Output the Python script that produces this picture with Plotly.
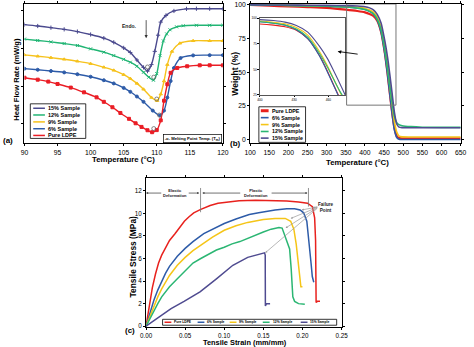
import plotly.graph_objects as go

W, H = 474, 347
def px(x): return x / W
def py(y): return 1 - y / H

FONT = "Liberation Sans, Arial"

# ---------------- (a) DSC ----------------
dsc_names = ["15% Sample", "12% Sample", "9% Sample", "6% Sample", "Pure LDPE"]
dsc_colors = ["#4b4a8e", "#21b574", "#f6c21c", "#2d5ba8", "#ea1d25"]
dsc_symbols = ["cross-thin", "x-thin", "triangle-up", "circle", "square"]
dsc_T_15 = [90, 92, 94, 96, 98, 100, 102, 103.5, 105, 106, 107, 108, 108.6, 109.2, 109.7, 110.2, 110.6, 111.4, 112.6, 114.5, 116, 118, 120]
dsc_y_15 = [85.2, 84.2, 83.0, 81.8, 80.2, 78.1, 75.5, 72.5, 68.5, 65.2, 59.8, 54.5, 51.8, 56.5, 66.0, 77.6, 87.0, 91.8, 95.0, 96.5, 96.6, 96.6, 96.6]
dsc_T_12 = [90, 92, 94, 96, 98, 100, 102, 103.5, 105, 106, 107, 108, 108.8, 109.5, 110.0, 110.5, 111.0, 111.5, 112, 113, 114, 116, 118, 120]
dsc_y_12 = [74.8, 73.8, 72.8, 71.6, 70.2, 67.8, 65.4, 63.0, 60.3, 58.2, 55.3, 51.0, 47.5, 45.3, 50.0, 63.0, 73.5, 78.5, 81.5, 83.6, 84.4, 84.7, 84.7, 84.7]
dsc_T_9 = [90, 92, 94, 96, 98, 100, 102, 103.5, 105, 106, 107, 108, 109.2, 110.05, 110.6, 111.1, 111.6, 112.3, 113.5, 115.5, 118, 120]
dsc_y_9 = [63.5, 62.5, 61.5, 60.3, 58.9, 57.2, 54.6, 52.4, 49.3, 46.5, 43.0, 38.8, 32.9, 30.6, 35.3, 44.7, 56.5, 65.9, 71.8, 73.6, 73.6, 73.6]
dsc_T_6 = [90, 92, 94, 96, 98, 100, 102, 103.5, 105, 106, 107, 108, 109.4, 110.5, 111.1, 111.6, 112.1, 112.6, 113.6, 115.5, 118, 120]
dsc_y_6 = [53.6, 52.8, 51.9, 50.9, 49.6, 47.8, 45.3, 43.0, 39.8, 37.0, 33.6, 29.8, 23.5, 20.0, 23.5, 32.9, 44.7, 54.1, 61.2, 63.1, 63.3, 63.3]
dsc_T_0 = [90, 92, 93.6, 95, 97, 99, 100.9, 102, 103.3, 104.5, 105.8, 106.8, 107.7, 108.6, 109.3, 110.0, 110.6, 111.1, 111.6, 112.1, 113.1, 114.6, 116.5, 118, 120]
dsc_y_0 = [47.1, 45.7, 44.3, 42.6, 40.0, 36.6, 33.0, 29.8, 25.9, 21.8, 17.6, 14.4, 11.8, 9.4, 8.0, 9.5, 16.5, 30.6, 42.4, 50.6, 54.1, 55.3, 56.0, 56.0, 56.0]
dsc_T = [dsc_T_15, dsc_T_12, dsc_T_9, dsc_T_6, dsc_T_0]
dsc_y = [dsc_y_15, dsc_y_12, dsc_y_9, dsc_y_6, dsc_y_0]
tm_T = [108.6, 109.55, 110.0, 110.4, 109.55]
tm_y = [54.8, 47.5, 31.8, 20.3, 10.6]
dsc_ticks_y = [14.4, 41.1, 68.3, 95.5]

# ---------------- (b) TGA ----------------
tga_names = ["Pure LDPE", "6% Sample", "9% Sample", "12% Sample", "15% Sample"]
tga_colors = ["#e8211d", "#2d5ba8", "#f5c518", "#2bb673", "#4f4b90"]
tga_widths = [2.2, 1.6, 1.6, 1.6, 1.6]
tga_T = [100, 150, 200, 250, 300, 350, 380, 400, 412, 422, 432, 442, 452, 459, 465, 471, 477, 483, 489, 497, 520, 550, 600, 650]
tga_pure = [100, 99.4, 98.9, 98.4, 97.8, 96.5, 95.5, 94.5, 93.3, 91.8, 88.3, 80.0, 64.0, 49.0, 34.0, 20.0, 8.5, 2.5, 1.0, 0.8, 0.8, 0.8, 0.8, 0.8]
tga_6 = [100, 99.8, 99.6, 99.4, 99.1, 98.5, 97.7, 96.7, 95.3, 93.3, 88.8, 80.0, 63.5, 48.0, 33.5, 19.0, 7.0, 1.5, 0.2, 0, 0, 0, 0, 0]
tga_9 = [100, 99.9, 99.7, 99.5, 99.3, 98.8, 98.2, 97.4, 96.2, 94.6, 91.0, 83.5, 68.0, 54.0, 40.0, 26.0, 13.0, 5.5, 2.5, 1.9, 1.8, 1.8, 1.8, 1.8]
tga_12 = [100, 99.8, 99.6, 99.3, 99.0, 98.4, 97.6, 96.6, 95.2, 93.4, 89.5, 81.5, 66.0, 52.5, 39.5, 27.0, 17.0, 12.5, 11.0, 10.2, 9.5, 9.1, 9.0, 9.0]
tga_15 = [100, 99.9, 99.9, 99.8, 99.7, 99.5, 99.2, 98.7, 97.8, 96.3, 93.0, 86.5, 73.0, 61.0, 48.0, 34.0, 20.0, 11.5, 9.2, 8.8, 8.7, 8.7, 8.7, 8.7]
tga_w = [tga_pure, tga_6, tga_9, tga_12, tga_15]

# ---------------- (c) Tensile ----------------
ten_names = ["Pure LDPE", "6% Sample", "9% Sample", "12% Sample", "15% Sample"]
ten_colors = ["#e8211d", "#2d5ba8", "#f5c518", "#2bb673", "#4f4b90"]
ten_x_0 = [0, 0.004, 0.008, 0.012, 0.016, 0.02, 0.025, 0.03, 0.037, 0.043, 0.049, 0.055, 0.061, 0.07, 0.082, 0.092, 0.103, 0.119, 0.14, 0.16, 0.18, 0.195, 0.2065, 0.2127, 0.2156, 0.2168, 0.2172, 0.2175, 0.219, 0.2225]
ten_y_0 = [0, 1.9, 3.4, 4.6, 5.6, 6.3, 7.0, 7.6, 8.2, 8.8, 9.3, 9.7, 10.05, 10.35, 10.7, 10.9, 11.0, 11.12, 11.17, 11.15, 11.1, 11.0, 10.9, 10.6, 9.6, 7.6, 4.5, 2.1, 2.2, 2.2]
ten_x_6 = [0, 0.005, 0.01, 0.015, 0.02, 0.025, 0.03, 0.04, 0.05, 0.06, 0.0738, 0.09, 0.1, 0.115, 0.132, 0.144, 0.165, 0.18, 0.19, 0.197, 0.2015, 0.2056, 0.2085, 0.211, 0.2126, 0.2135, 0.2145]
ten_y_6 = [0, 1.2, 2.3, 3.2, 4.0, 4.7, 5.3, 6.2, 6.9, 7.5, 8.2, 8.8, 9.1, 9.5, 9.9, 10.06, 10.3, 10.4, 10.4, 10.3, 10.05, 9.3, 7.6, 5.6, 4.4, 4.0, 3.9]
ten_x_9 = [0, 0.005, 0.01, 0.015, 0.02, 0.025, 0.03, 0.04, 0.05, 0.06, 0.07, 0.085, 0.1, 0.115, 0.13, 0.15, 0.165, 0.178, 0.185, 0.189, 0.192, 0.195, 0.197, 0.198, 0.2]
ten_y_9 = [0, 0.9, 1.8, 2.6, 3.3, 3.9, 4.5, 5.4, 6.1, 6.7, 7.2, 7.9, 8.5, 8.9, 9.2, 9.45, 9.55, 9.55, 9.3, 8.6, 7.3, 5.4, 3.8, 3.5, 3.5]
ten_x_12 = [0, 0.005, 0.01, 0.015, 0.02, 0.025, 0.03, 0.04, 0.05, 0.06, 0.07, 0.08, 0.09, 0.1, 0.11, 0.12, 0.13, 0.14, 0.15, 0.16, 0.17, 0.174, 0.176, 0.179, 0.1836, 0.1856, 0.1877, 0.19, 0.195, 0.203]
ten_y_12 = [0, 0.7, 1.4, 2.0, 2.6, 3.1, 3.5, 4.2, 4.9, 5.6, 6.0, 6.4, 6.75, 7.0, 7.3, 7.5, 7.8, 8.1, 8.35, 8.6, 8.75, 8.7, 8.3, 7.7, 6.85, 5.1, 2.6, 2.2, 2.0, 1.95]
ten_x_15 = [0, 0.016, 0.032, 0.0486, 0.069, 0.09, 0.111, 0.13, 0.145, 0.1515, 0.1524, 0.1526, 0.154, 0.1586]
ten_y_15 = [0, 0.8, 1.55, 2.2, 3.05, 4.2, 5.4, 6.1, 6.4, 6.5, 6.3, 1.8, 2.0, 2.0]
ten_x = [ten_x_0, ten_x_6, ten_x_9, ten_x_12, ten_x_15]
ten_y = [ten_y_0, ten_y_6, ten_y_9, ten_y_12, ten_y_15]
fail_x = [0.2127, 0.199, 0.185, 0.1785, 0.1524]
fail_y = [10.5, 10.3, 9.55, 8.7, 6.5]
fail_hub = (0.2215, 10.6)

fig = go.Figure()

# (a) traces
for T, y, c, n, s in zip(dsc_T, dsc_y, dsc_colors, dsc_names, dsc_symbols):
    fig.add_trace(go.Scatter(x=T, y=y, name=n, mode="lines+markers",
                             line=dict(color=c, width=1.4, shape="spline", smoothing=0.8),
                             marker=dict(symbol=s, size=3, color=c, line=dict(color=c, width=1)),
                             xaxis="x", yaxis="y", showlegend=False))
fig.add_trace(go.Scatter(x=tm_T, y=tm_y, mode="markers", name="Melting Point Temp.",
                         marker=dict(symbol="circle-open", size=4, color="#666", line=dict(width=0.8)),
                         xaxis="x", yaxis="y", showlegend=False))

# (b) traces main + inset
for w, c, n, lw in zip(tga_w, tga_colors, tga_names, tga_widths):
    fig.add_trace(go.Scatter(x=tga_T, y=w, name=n, mode="lines",
                             line=dict(color=c, width=lw, shape="spline", smoothing=0.6),
                             xaxis="x2", yaxis="y2", showlegend=False))
for w, c, n in zip(tga_w, tga_colors, tga_names):
    fig.add_trace(go.Scatter(x=tga_T, y=w, name=n, mode="lines",
                             line=dict(color=c, width=1.1, shape="spline", smoothing=0.6),
                             xaxis="x4", yaxis="y4", showlegend=False))

# (c) traces
for x, y, c, n in zip(ten_x, ten_y, ten_colors, ten_names):
    fig.add_trace(go.Scatter(x=x, y=y, name=n, mode="lines",
                             line=dict(color=c, width=1.5),
                             xaxis="x3", yaxis="y3", showlegend=False))

def axc(size=6.8, ticklen=2, **kw):
    d = dict(showline=True, linecolor="black", linewidth=1, mirror="ticks",
             ticks="outside", ticklen=ticklen, tickcolor="black", showgrid=False, zeroline=False,
             tickfont=dict(family=FONT, size=size, color="black"))
    d.update(kw)
    return d

fig.update_layout(
    width=W, height=H, margin=dict(l=0, r=0, t=0, b=0),
    paper_bgcolor="white", plot_bgcolor="white", showlegend=False,
    xaxis=dict(domain=[px(19), px(223)], range=[90, 120], dtick=5, anchor="y", **axc()),
    yaxis=dict(domain=[py(143), py(2)], range=[0, 100], tickvals=dsc_ticks_y, showticklabels=False,
               anchor="x", **axc()),
    xaxis2=dict(domain=[px(251), px(467.5)], range=[100, 650], dtick=50, anchor="y2", **axc()),
    yaxis2=dict(domain=[py(143), py(2)], range=[-2.9, 100.7], tickvals=[0, 25, 50, 75, 100],
                anchor="x2", **axc()),
    xaxis3=dict(domain=[px(144), px(345)], range=[0, 0.25], dtick=0.05, tickformat=".2f",
                anchor="y3", **axc(size=6.3)),
    yaxis3=dict(domain=[py(329), py(178)], range=[-0.09, 13.14], dtick=2, anchor="x3", **axc(size=6.3)),
    xaxis4=dict(domain=[px(261), px(349)], range=[400, 475], tickvals=[400, 430, 460], anchor="y4",
                **axc(size=3.2, ticklen=1.5, mirror=True, linecolor="#555", linewidth=0.8)),
    yaxis4=dict(domain=[py(94), py(16.5)], range=[25, 100], tickvals=[25, 50, 75, 100], anchor="x4",
                **axc(size=3.2, ticklen=1.5, mirror=True, linecolor="#555", linewidth=0.8)),
)

shapes = []
ann = []

def text(x, y, t, size, angle=0, xanchor="center", yanchor="middle", color="black"):
    ann.append(dict(x=px(x), y=py(y), xref="paper", yref="paper", text=t, showarrow=False,
                    textangle=angle, xanchor=xanchor, yanchor=yanchor,
                    font=dict(family=FONT, size=size, color=color)))

# axis titles
text(121, 159.5, "<b>Temperature (°C)</b>", 7.8)
text(10, 78, "<b>Heat Flow Rate (mW/g)</b>", 7.6, angle=-90)
text(361, 162, "<b>Temperature (°C)</b>", 7.8)
text(236, 73, "<b>Weight (%)</b>", 8.5, angle=-90)
text(246, 344.5, "<b>Tensile Strain (mm/mm)</b>", 7.4)
text(131, 257, "<b>Tensile Stress (MPa)</b>", 8.4, angle=-90)
# panel labels
text(9, 140, "<b>(a)</b>", 8, xanchor="right")
text(244, 143, "<b>(b)</b>", 8, xanchor="right")
text(128, 332, "<b>(c)</b>", 8)

# manual legends
def legend(box, names, colors, line_x, text_x, rows_y, size, widths=None):
    shapes.append(dict(type="rect", xref="paper", yref="paper", x0=px(box[0]), x1=px(box[2]),
                       y0=py(box[3]), y1=py(box[1]), line=dict(color="black", width=0.8),
                       fillcolor="white", layer="above"))
    for i, (n, c) in enumerate(zip(names, colors)):
        lw = widths[i] if widths else 1.5
        shapes.append(dict(type="line", xref="paper", yref="paper",
                           x0=px(line_x[i][0]), x1=px(line_x[i][1]), y0=py(rows_y[i]), y1=py(rows_y[i]),
                           line=dict(color=c, width=lw), layer="above"))
        text(text_x[i], rows_y[i], "<b>%s</b>" % n, size, xanchor="left")

legend((25, 103, 82, 138), dsc_names, dsc_colors, [(28, 40)] * 5, [41] * 5,
       [107.5, 114.3, 121.3, 128.2, 135], 5.5)
legend((260, 106, 308, 142), tga_names, tga_colors, [(262, 270)] * 5, [271] * 5,
       [110, 117, 124, 131, 137.7], 5.3, widths=[3, 1.6, 1.6, 1.6, 1.6])
c_starts = [163, 197, 230, 264, 303]
legend((161, 321, 340, 327), ten_names, ten_colors, [(s, s + 7) for s in c_starts],
       [s + 8 for s in c_starts], [324] * 5, 3.3)

# (a) extras
ann.append(dict(x=px(222.5), y=py(142.5), xref="paper", yref="paper", xanchor="right", yanchor="bottom",
                text="<b>-o- Melting Point Temp. (T<sub>m</sub>)</b>", showarrow=False,
                font=dict(family=FONT, size=4.2, color="black"),
                bordercolor="black", borderwidth=0.7, borderpad=1, bgcolor="white"))
ann.append(dict(x=108.4, y=75.5, xref="x", yref="y", ax=0, ay=-22, text=" ", showarrow=True,
                arrowhead=2, arrowsize=0.8, arrowwidth=0.8, arrowcolor="#333",
                font=dict(size=4)))
ann.append(dict(x=105.8, y=84, xref="x", yref="y", text="<b>Endo.</b>", showarrow=False,
                font=dict(family=FONT, size=5, color="#222")))

# (b) extras: zoom box + arrow
shapes.append(dict(type="rect", xref="x2", yref="y2", x0=352, x1=481, y0=25.5, y1=100.7,
                   line=dict(color="#777", width=1)))
ann.append(dict(x=px(341), y=py(50), xref="paper", yref="paper", ax=22, ay=3, text=" ",
                showarrow=True, arrowhead=2, arrowsize=0.8, arrowwidth=0.9, arrowcolor="black",
                font=dict(size=4)))

# (c) extras
for (x0, x1) in [(0.022, 0.0), (0.052, 0.068), (0.123, 0.072), (0.158, 0.2065)]:
    ann.append(dict(x=x1, y=11.8, ax=x0, ay=11.8, xref="x3", yref="y3", axref="x3", ayref="y3",
                    text=" ", showarrow=True, arrowhead=2, arrowsize=0.6, arrowwidth=0.7,
                    arrowcolor="#333", font=dict(size=4)))
for xv, ybot in [(0.0697, 10.1), (0.2077, 10.6)]:
    shapes.append(dict(type="line", xref="x3", yref="y3", x0=xv, x1=xv, y0=12.25, y1=ybot,
                       line=dict(color="#777", width=0.8)))
ann.append(dict(x=0.037, y=11.8, xref="x3", yref="y3", text="<b>Elastic<br>Deformation</b>",
                showarrow=False, font=dict(family=FONT, size=4, color="#222")))
ann.append(dict(x=0.14, y=11.8, xref="x3", yref="y3", text="<b>Plastic<br>Deformation</b>",
                showarrow=False, font=dict(family=FONT, size=4, color="#222")))
ann.append(dict(x=0.2305, y=10.5, xref="x3", yref="y3", text="<b>Failure<br>Point</b>",
                showarrow=False, font=dict(family=FONT, size=4.6, color="#222")))
for fx, fy in zip(fail_x, fail_y):
    ann.append(dict(x=fx, y=fy, ax=fail_hub[0], ay=fail_hub[1], xref="x3", yref="y3",
                    axref="x3", ayref="y3", text=" ", showarrow=True, arrowhead=2,
                    arrowsize=0.6, arrowwidth=0.7, arrowcolor="#999", font=dict(size=4)))

fig.update_layout(shapes=shapes, annotations=ann)
fig.write_html("out.html")
